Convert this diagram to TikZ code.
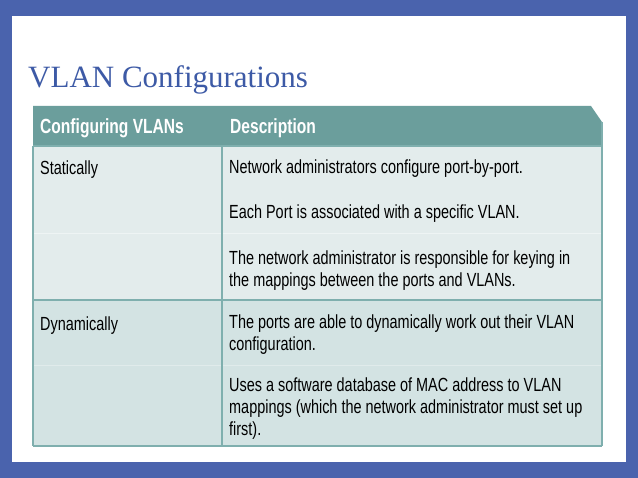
\documentclass[tikz,border=0pt]{standalone}
\usepackage{fontspec}
\setmainfont{Liberation Serif}
\newfontfamily\tabfont[FakeStretch=0.76]{Liberation Sans}
\definecolor{slideblue}{HTML}{4A63AD}
\definecolor{titleblue}{HTML}{3D5AA6}
\definecolor{headteal}{HTML}{6B9E9C}
\definecolor{rowA}{HTML}{E3ECEC}
\definecolor{rowB}{HTML}{D3E3E3}
\definecolor{gridc}{HTML}{7FAFAE}
\tikzset{
  cell/.style={anchor=north west, inner sep=0pt, align=left, font=\tabfont\fontsize{19}{22}\selectfont},
  head/.style={anchor=base west, inner sep=0pt, text=white, font=\tabfont\bfseries\fontsize{20.5}{22}\selectfont},
}
\begin{document}
\begin{tikzpicture}[x=1pt,y=-1pt]
\useasboundingbox (0,0) rectangle (638,478);
\fill[slideblue] (0,0) rectangle (638,478);
\fill[white] (12,16) rectangle (626,462);
\node[anchor=base west, inner sep=0pt, text=titleblue, font=\fontsize{31}{34}\selectfont] (title) at (28,88) {VLAN Configurations};
% table
\fill[rowA] (33,146) rectangle (602,300);
\fill[rowB] (33,300) rectangle (602,446);
\draw[white!40!rowA, line width=0.8pt] (33,233) -- (602,233);
\draw[white!30!rowB, line width=0.8pt] (33,365) -- (602,365);
\fill[headteal] (33,106) -- (591,106) -- (602,122) -- (602,146) -- (33,146) -- cycle;
\draw[gridc, line width=1.5pt] (33,146) -- (602,146) (33,300) -- (602,300) (33,446) -- (602,446)
  (33,146) -- (33,446) (602,122) -- (602,446) (222,146) -- (222,446);
\node[head] (h1) at (40,134) {Configuring VLANs};
\node[head] (h2) at (230,134) {Description};
\node[cell] (s) at (40,161) {Statically};
\node[cell] (s1) at (229,160) {Network administrators configure port-by-port.};
\node[cell] (s2) at (229,205) {Each Port is associated with a specific VLAN.};
\node[cell] (s3) at (229,251) {The network administrator is responsible for keying in\\the mappings between the ports and VLANs.};
\node[cell] (d) at (40,317) {Dynamically};
\node[cell] (d1) at (229,315) {The ports are able to dynamically work out their VLAN\\configuration.};
\node[cell] (d2) at (229,378) {Uses a software database of MAC address to VLAN\\mappings (which the network administrator must set up\\first).};
\end{tikzpicture}
\end{document}
